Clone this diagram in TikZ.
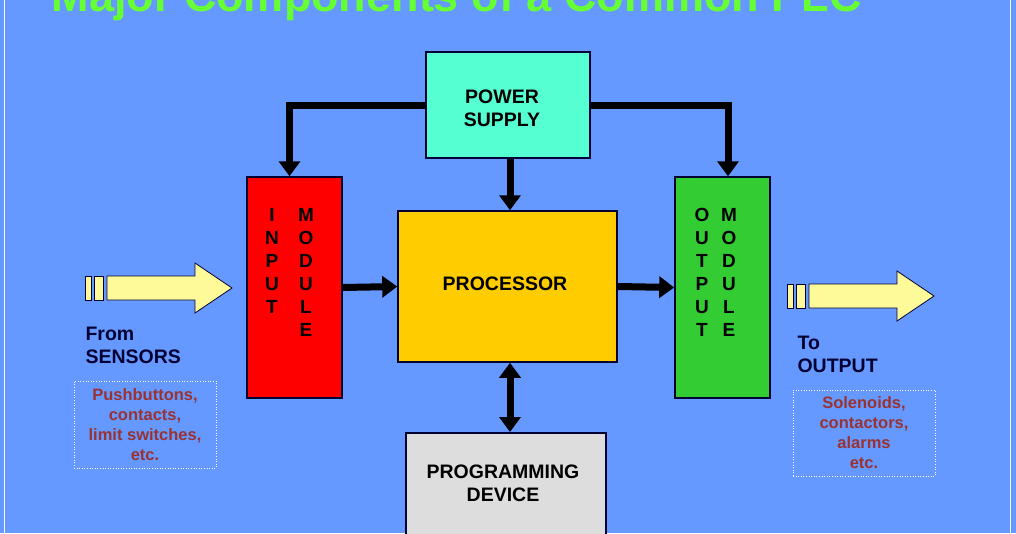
\documentclass[tikz,border=0pt]{standalone}
\usepackage{fontspec}
\setmainfont{Liberation Sans}
\usetikzlibrary{arrows.meta}
\definecolor{bg}{HTML}{6699FF}
\definecolor{navy}{HTML}{000033}
\definecolor{brn}{HTML}{993333}
\definecolor{ttl}{HTML}{66FF33}
\tikzset{
 x=1pt,y=-1pt,
 blk/.style={draw=navy,line width=1.5pt,inner sep=0pt},
 arr/.style={line width=7pt,-{Triangle[length=15pt,width=21pt]}},
 lbl/.style={font=\fontsize{19.5}{23}\selectfont\bfseries,text=black},
 vtxt/.style={font=\fontsize{19}{23}\selectfont\bfseries,align=center,anchor=north},
 ftxt/.style={font=\fontsize{19.5}{23}\selectfont\bfseries,text=navy,align=left,anchor=north west},
 dbox/.style={draw=white,dotted,line width=0.6pt,font=\fontsize{16.5}{20}\selectfont\bfseries,text=brn,align=center},
 yarr/.style={draw=navy,fill=yellow!40,line width=0.8pt},
}
\begin{document}
\begin{tikzpicture}
\useasboundingbox (0,0) rectangle (1016,533);
\fill[bg] (0,0) rectangle (1016,533);
\draw[white,line width=0.8pt] (4,-5) rectangle (1010,540);
\node[anchor=base west,text=ttl,font=\fontsize{45}{45}\selectfont\bfseries] (title) at (48,11) {Major Components of a Common PLC};
% boxes
\node[blk,fill={rgb,255:red,85;green,255;blue,210},minimum width=164,minimum height=106] (ps) at (508,105) {};
\node[lbl,align=center] at (502,108) {POWER\\SUPPLY};
\node[blk,fill=red,minimum width=95,minimum height=221] (in) at (294.5,287.5) {};
\node[blk,fill={rgb,255:red,255;green,204;blue,0},minimum width=219,minimum height=151] (pr) at (507.5,286.5) {};
\node[lbl] at (505,284) {PROCESSOR};
\node[blk,fill={rgb,255:red,51;green,204;blue,51},minimum width=95,minimum height=221] (out) at (722.5,287.5) {};
\node[blk,fill={rgb,255:red,221;green,221;blue,221},minimum width=200,minimum height=110,anchor=north] (pd) at (506,432) {};
\node[lbl,align=center] at (503,483) {PROGRAMMING\\DEVICE};
\node[vtxt] (t1) at (272,205) {I\\N\\P\\U\\T};
\node[vtxt] (t2) at (306,205) {M\\O\\D\\U\\L\\E};
\node[vtxt] (t3) at (702,205) {O\\U\\T\\P\\U\\T};
\node[vtxt] (t4) at (729,205) {M\\O\\D\\U\\L\\E};
% arrows
\draw[arr] (ps.west) -| ([xshift=-5pt]in.north);
\draw[arr] (ps.east) -| ([xshift=5.5pt]out.north);
\draw[arr] ([xshift=2pt]ps.south) -- ([xshift=2.5pt]pr.north);
\draw[arr] (in.east) -- (pr.west);
\draw[arr] (pr.east) -- (out.west);
\draw[line width=7pt,{Triangle[length=15pt,width=21pt]}-{Triangle[length=15pt,width=21pt]}] ([xshift=2.5pt]pr.south) -- ([xshift=4pt]pd.north);
% yellow arrows
\draw[yarr] (85,276) rectangle (91,300);
\draw[yarr] (94,276) rectangle (103,300);
\draw[yarr] (107,276) -- (195,276) -- (195,263) -- (232,288) -- (195,313) -- (195,300) -- (107,300) -- cycle;
\draw[yarr] (787,284) rectangle (793,308);
\draw[yarr] (796,284) rectangle (805,308);
\draw[yarr] (809,284) -- (897,284) -- (897,271) -- (934,296) -- (897,321) -- (897,308) -- (809,308) -- cycle;
\node[ftxt] (from) at (82,324) {From\\SENSORS};
\node[ftxt] (to) at (794,333) {To\\OUTPUT};
\node[dbox,minimum width=142,minimum height=87] (sb) at (145,424.5) {Pushbuttons,\\contacts,\\limit switches,\\etc.};
\node[dbox,minimum width=142,minimum height=86] (ob) at (864,433) {Solenoids,\\contactors,\\alarms\\etc.};
\end{tikzpicture}
\end{document}
